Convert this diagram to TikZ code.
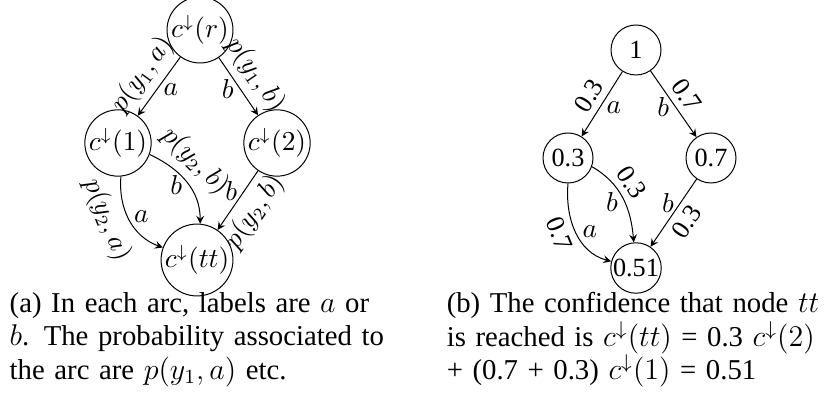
\documentclass[tikz,border=0pt]{standalone}
\usepackage{fontspec}
\setmainfont{Liberation Serif}
\begin{document}
\begin{tikzpicture}[x=0.4pt,y=-0.4pt,
  st/.style={circle,draw,inner sep=0.2pt,minimum size=20pt,font=\fontsize{10.5}{12}\selectfont},
  ar/.style={->,>=stealth},
  lb/.style={font=\fontsize{10.5}{12}\selectfont,inner sep=2.5pt}]
\useasboundingbox (0,0) rectangle (830,418);
\node[st] (r) at (200,30) {$c^{\downarrow}(r)$};
\node[st] (a1) at (118,143) {$c^{\downarrow}(1)$};
\node[st] (a2) at (277,143) {$c^{\downarrow}(2)$};
\node[st] (tt) at (197,260) {$c^{\downarrow}(tt)$};
\draw[ar] (r) -- node[lb,sloped,above]{$p(y_1,a)$} node[lb,pos=0.55,right]{$a$} (a1);
\draw[ar] (r) -- node[lb,sloped,above]{$p(y_1,b)$} node[lb,pos=0.55,left]{$b$} (a2);
\draw[ar] (a1.-85) to[out=-95,in=160] node[lb,sloped,below,pos=0.4]{$p(y_2,a)$} node[lb,right,pos=0.45]{$a$} (tt.160);
\draw[ar] (a1.-20) to[out=-25,in=90] node[lb,sloped,above,pos=0.4]{$p(y_2,b)$} node[lb,left,pos=0.55]{$b$} (tt.85);
\draw[ar] (a2) -- node[lb,sloped,below]{$p(y_2,b)$} node[lb,pos=0.35,left]{$b$} (tt);
\node[st] (q) at (636,50) {1};
\node[st] (q1) at (568,158) {0.3};
\node[st] (q2) at (711,158) {0.7};
\node[st] (q3) at (636,268) {0.51};
\draw[ar] (q) -- node[lb,sloped,above]{0.3} node[lb,pos=0.55,right]{$a$} (q1);
\draw[ar] (q) -- node[lb,sloped,above]{0.7} node[lb,pos=0.55,left]{$b$} (q2);
\draw[ar] (q1.-90) to[out=-95,in=165] node[lb,sloped,below,pos=0.45]{0.7} node[lb,right,pos=0.5]{$a$} (q3.165);
\draw[ar] (q1.-20) to[out=-30,in=95] node[lb,sloped,above,pos=0.4]{0.3} node[lb,left,pos=0.55]{$b$} (q3.95);
\draw[ar] (q2) -- node[lb,sloped,below]{0.3} node[lb,pos=0.35,left]{$b$} (q3);
\node[lb,anchor=north west,align=left,text width=160pt,font=\fontsize{11.5}{13.3}\selectfont] (ca) at (3,286)
 {(a) In each arc, labels are $a$ or\\ $b$. The probability associated to\\ the arc are $p(y_1,a)$ etc.};
\node[lb,anchor=north west,align=left,text width=160pt,font=\fontsize{11.5}{13.3}\selectfont] (cb) at (440,286)
 {(b) The confidence that node $tt$\\ is reached is $c^{\downarrow}(tt)$ = 0.3 $c^{\downarrow}(2)$\\ + (0.7 + 0.3) $c^{\downarrow}(1)$ = 0.51};
\end{tikzpicture}
\end{document}
